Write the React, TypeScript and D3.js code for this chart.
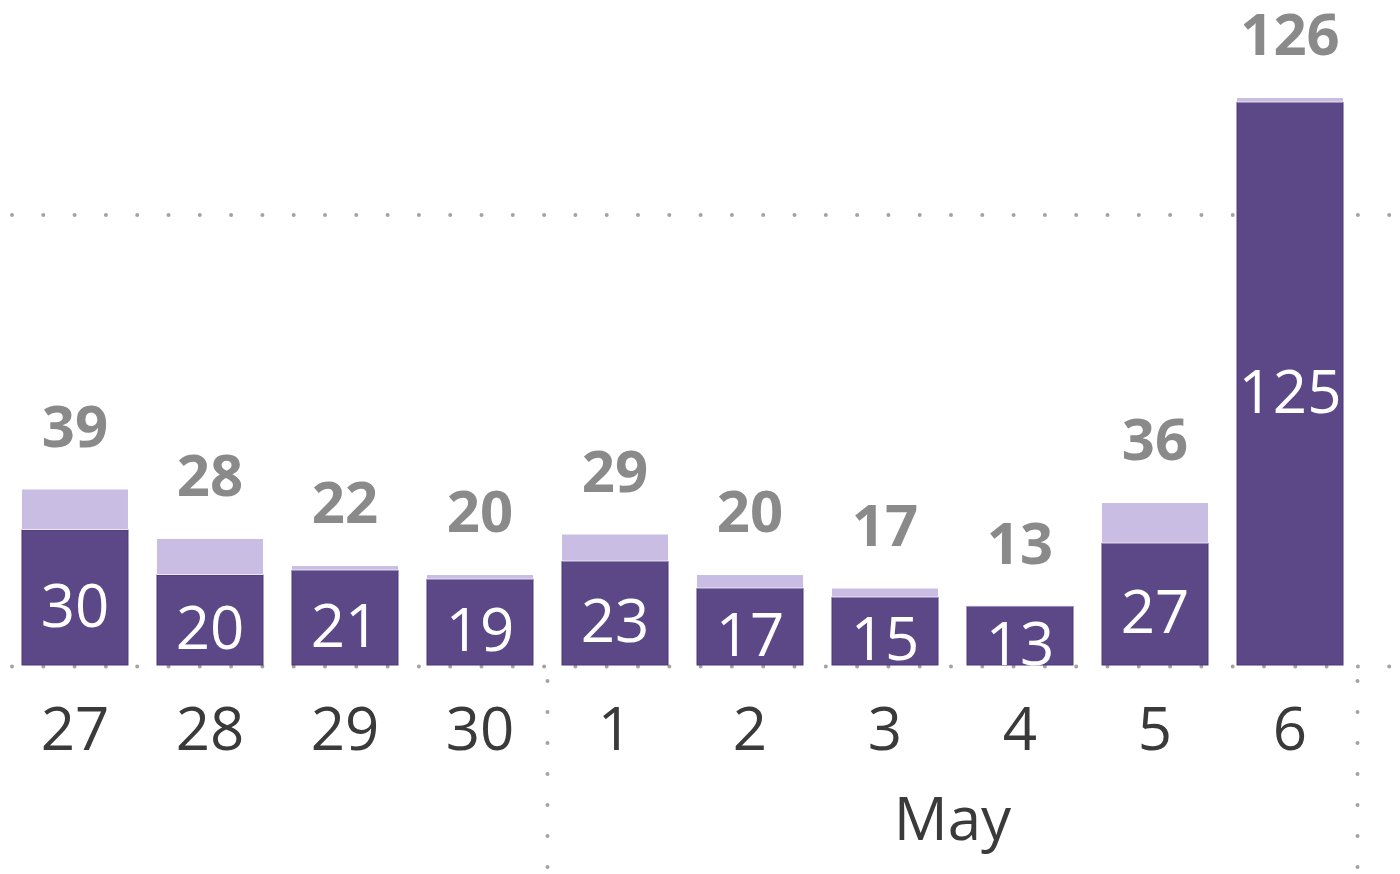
import React from "react";
import * as d3 from "d3";

const days = ["27", "28", "29", "30", "1", "2", "3", "4", "5", "6"];
const darkValues = [30, 20, 21, 19, 23, 17, 15, 13, 27, 125];
const totalValues = [39, 28, 22, 20, 29, 20, 17, 13, 36, 126];
const gridTicks = [0, 100];
const monthLabel = "May";
const monthStartDay = "1";

const W = 1400;
const H = 874;
const DARK = "#5c4787";
const LIGHT = "#c9bde3";
const FONT = "'Open Sans', 'Noto Sans', sans-serif";

export default function App() {
  const x = d3
    .scaleBand<string>()
    .domain(days)
    .range([7.5, 1357.5])
    .paddingInner(0.215)
    .paddingOuter(0.1074);
  const y = d3.scaleLinear().domain([0, 100]).range([665, 215]);
  const bw = x.bandwidth();
  const step = x.step();
  const halfGap = (step - bw) / 2;
  const monthStartX = (x(monthStartDay) as number) - halfGap;
  const endX = (x(days[days.length - 1]) as number) + bw + halfGap;
  const monthCenter = (monthStartX + endX) / 2;

  return (
    <svg
      width={W}
      height={H}
      style={{ position: "absolute", left: 0, top: 0, background: "#fff" }}
      fontFamily={FONT}
    >
      {gridTicks.map((t) => (
        <line
          key={t}
          x1={12}
          x2={W}
          y1={y(t) + (t === 0 ? 1.5 : 0)}
          y2={y(t) + (t === 0 ? 1.5 : 0)}
          stroke="#a3a3a3"
          strokeWidth={4}
          strokeLinecap="round"
          strokeDasharray="0 31.3"
        />
      ))}
      {[monthStartX, endX].map((vx, i) => (
        <line
          key={i}
          x1={vx}
          x2={vx}
          y1={681}
          y2={H}
          stroke="#a3a3a3"
          strokeWidth={4}
          strokeLinecap="round"
          strokeDasharray="0 31"
        />
      ))}
      {days.map((d, i) => {
        const bx = x(d) as number;
        const yd = y(darkValues[i]);
        const yt = y(totalValues[i]);
        const y0 = y(0);
        return (
          <g key={d}>
            {totalValues[i] > darkValues[i] && (
              <rect x={bx} y={yt} width={bw} height={yd - yt} fill={LIGHT} />
            )}
            <rect
              x={bx}
              y={yd}
              width={bw}
              height={y0 - yd}
              fill={DARK}
              stroke="#4a3877"
              strokeWidth={1}
            />
            <line x1={bx} x2={bx + bw} y1={yd - 0.5} y2={yd - 0.5} stroke="#ece6f5" strokeWidth={1.2} />
            <text
              x={bx + bw / 2}
              y={(yd + y0) / 2 + 29}
              textAnchor="middle"
              fill="#ffffff"
              fontSize={60}
            >
              {darkValues[i]}
            </text>
            <text
              x={bx + bw / 2}
              y={yt - 43}
              textAnchor="middle"
              fill="#8a8a8a"
              fontSize={58}
              fontWeight={700}
            >
              {totalValues[i]}
            </text>
            <text
              x={bx + bw / 2}
              y={750}
              textAnchor="middle"
              fill="#3a3a3a"
              fontSize={60}
            >
              {d}
            </text>
          </g>
        );
      })}
      <text x={monthCenter} y={840} textAnchor="middle" fill="#3a3a3a" fontSize={60}>
        {monthLabel}
      </text>
    </svg>
  );
}
